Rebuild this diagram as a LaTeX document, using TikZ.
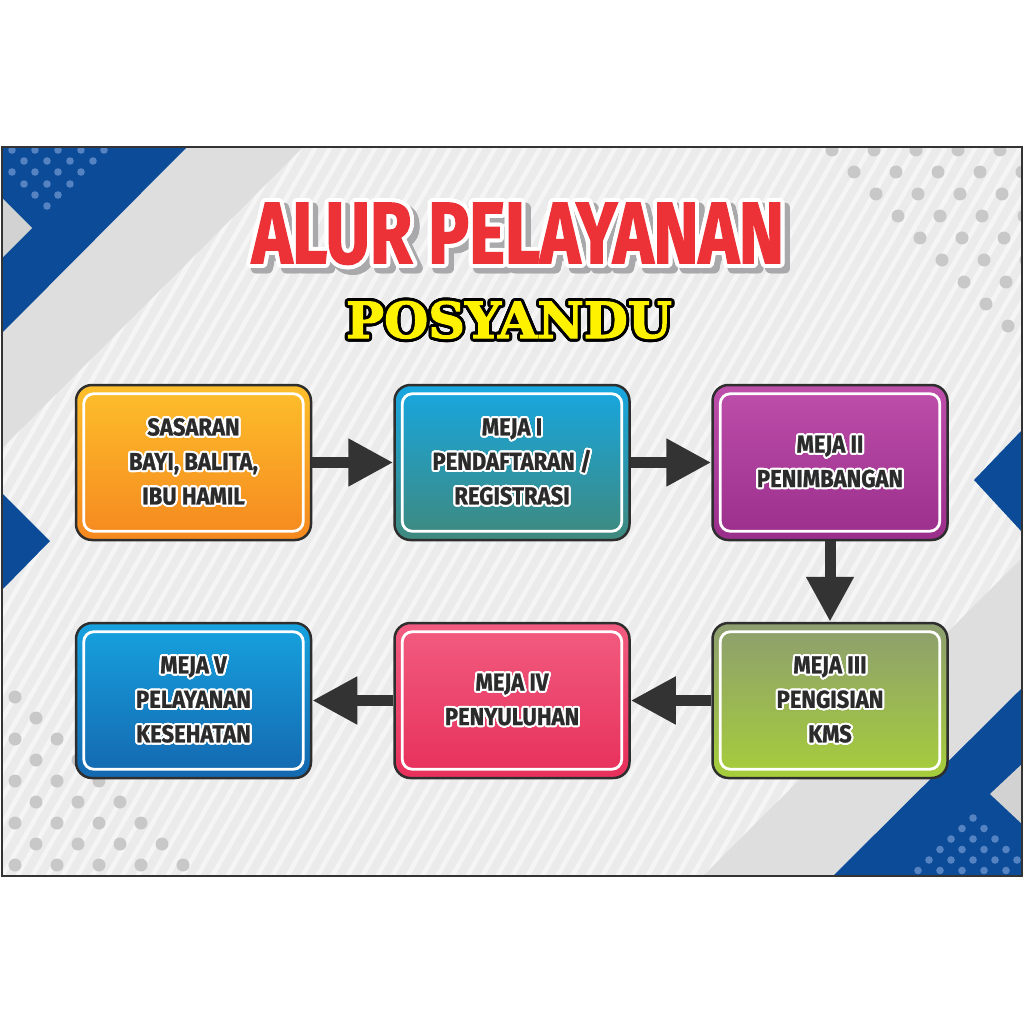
\documentclass[tikz,border=0pt]{standalone}
\usepackage{fontspec}
\usepackage[copies]{contour}
\usetikzlibrary{arrows.meta}
\setmainfont{Fira Sans}
\newfontfamily\boxfont[FakeStretch=0.9,FakeBold=1]{Fira Sans}
\newfontfamily\titlefont[FakeBold=2]{Fira Sans}
\newfontfamily\posfont[FakeBold=2]{DejaVu Serif}
\definecolor{tred}{HTML}{ED3237}
\definecolor{sgray}{HTML}{A9A9AB}
\definecolor{pyel}{HTML}{FFF200}
\definecolor{boxtxt}{HTML}{2B2B2B}
\definecolor{bord}{HTML}{2E2E2E}
\definecolor{arrowc}{HTML}{333333}
\definecolor{blueA}{HTML}{0C4B98}
\definecolor{bluedot}{HTML}{5582C0}
\definecolor{graydot}{HTML}{C8C8C8}
\definecolor{bgbase}{HTML}{EBEBEB}
\definecolor{stripec}{HTML}{F5F5F5}
\definecolor{bandc}{HTML}{DEDEDE}
\definecolor{chevc}{HTML}{D2D2D2}
\definecolor{framec}{HTML}{333333}
\definecolor{oA}{HTML}{FDBF2B}\definecolor{oB}{HTML}{F5881F}
\definecolor{cA}{HTML}{16A7E1}\definecolor{cB}{HTML}{3F897D}
\definecolor{mA}{HTML}{BE4FAB}\definecolor{mB}{HTML}{9A2E8B}
\definecolor{gA}{HTML}{8D9E6F}\definecolor{gB}{HTML}{A6CE3A}
\definecolor{pA}{HTML}{F25C80}\definecolor{pB}{HTML}{E7305B}
\definecolor{bA}{HTML}{17A2DF}\definecolor{bB}{HTML}{1467AF}
\newcommand\wout[1]{\contour{white}{#1}}
\contournumber{24}
\contourlength{2pt}
\newcommand\titletxt{\resizebox{532pt}{60pt}{\titlefont\bfseries ALUR PELAYANAN}}
\newcommand\postxt{\resizebox{326pt}{37pt}{\posfont\bfseries POSYANDU}}
\tikzset{
  flowbox/.style={draw=bord, line width=2.5pt, rounded corners=16pt,
    minimum width=235pt, minimum height=155pt, inner sep=0pt, align=center,
    font=\boxfont\bfseries\fontsize{24.5pt}{34.5pt}\selectfont, text=boxtxt},
  innerline/.style={draw=white, line width=2.8pt, rounded corners=10pt},
  arr/.style={draw=arrowc, line width=11pt, -{Triangle[length=45pt,width=45pt]}},
  stripe/.style={draw=stripec, line width=4.5pt},
  gdot/.style={fill=graydot},
  bdot/.style={fill=bluedot}
}
\begin{document}
\begin{tikzpicture}[x=1pt,y=-1pt]
\useasboundingbox (0,0) rectangle (1024,1024);
\fill[white] (0,0) rectangle (1024,1024);
\begin{scope}
\clip (2,147) rectangle (1022,876);
\fill[bgbase] (2,147) rectangle (1022,876);
\foreach \i in {-30,...,70}{\draw[stripe] ({15*\i},880) -- ({15*\i+423},143);}
% soft bands
\fill[bandc] (187,147) -- (303,147) -- (2,448) -- (2,333) -- cycle;
\fill[bandc] (1022,558) -- (1022,688) -- (833,876) -- (703,876) -- cycle;
% blue shapes
\fill[blueA] (2,147) -- (187,147) -- (2,333) -- cycle;
\fill[chevc] (2,198) -- (32,228) -- (2,258) -- cycle;
\fill[blueA] (2,493) -- (50,541) -- (2,590) -- cycle;
\fill[blueA] (1022,430) -- (974,480) -- (1022,532) -- cycle;
\fill[blueA] (833,876) -- (1022,688) -- (1022,876) -- cycle;
\fill[chevc] (1022,764) -- (990,794) -- (1022,824) -- cycle;
% blue dots top-left
\foreach \x/\y in {12/150,35/150,58/150,81/150,104/150,
  24/161,47/161,70/161,93/161,
  12/172,35/172,58/172,81/172,
  24/184,47/184,70/184,
  35/195,58/195,
  47/206}{\fill[bdot] (\x,\y) circle (3.8pt);}
% blue dots bottom-right
\foreach \k in {0,...,6}{\foreach \j in {0,...,\k}{\fill[bdot] ({973-11*\k+22*\j},{818+10.5*\k}) circle (3.8pt);}}
% gray dots top-right
\foreach \k in {0,...,8}{\foreach \j in {0,...,5}{\fill[gdot] ({832+22*\k+42*\j},{150+22*\k}) circle (6.5pt);}}
% gray dots bottom-left
\foreach \k in {0,...,8}{\foreach \j in {0,...,5}{\fill[gdot] ({15+21*\k-42*\j},{697+21*\k}) circle (6.5pt);}}
\end{scope}
\draw[line width=2pt, framec] (2,147) rectangle (1022,876);
% title
\node[anchor=base, inner sep=0pt] (tshadow) at (523,268) {\contourlength{4.5pt}\color{sgray}\contour{sgray}{\titletxt}};
\node[anchor=base, inner sep=0pt] (title) at (518,263) {\contourlength{4pt}\color{tred}\contour{white}{\titletxt}};
\node[anchor=base, inner sep=0pt] (sub) at (509,338) {\contourlength{3pt}\color{pyel}\contour{black}{\postxt}};
% boxes
\node[flowbox, top color=oA, bottom color=oB] (b1) at (193.5,462.5) {\wout{SASARAN}\\\wout{BAYI, BALITA,}\\\wout{IBU HAMIL}};
\node[flowbox, top color=cA, bottom color=cB] (b2) at (512,462.5) {\wout{MEJA I}\\\wout{PENDAFTARAN /}\\\wout{REGISTRASI}};
\node[flowbox, top color=mA, bottom color=mB] (b3) at (830,462.5) {\wout{MEJA II}\\\wout{PENIMBANGAN}};
\node[flowbox, top color=gA, bottom color=gB] (b4) at (830,700.5) {\wout{MEJA III}\\\wout{PENGISIAN}\\\wout{KMS}};
\node[flowbox, top color=pA, bottom color=pB] (b5) at (512,700.5) {\wout{MEJA IV}\\\wout{PENYULUHAN}};
\node[flowbox, top color=bA, bottom color=bB] (b6) at (193.5,700.5) {\wout{MEJA V}\\\wout{PELAYANAN}\\\wout{KESEHATAN}};
\foreach \n in {b1,b2,b3,b4,b5,b6}{\draw[innerline] ([shift={(9,10)}]\n.north west) rectangle ([shift={(-9,-10)}]\n.south east);}
% arrows
\draw[arr] (b1.east) -- (b2.west);
\draw[arr] (b2.east) -- (b3.west);
\draw[arr] (b3.south) -- (b4.north);
\draw[arr] (b4.west) -- (b5.east);
\draw[arr] (b5.west) -- (b6.east);
\end{tikzpicture}
\end{document}
